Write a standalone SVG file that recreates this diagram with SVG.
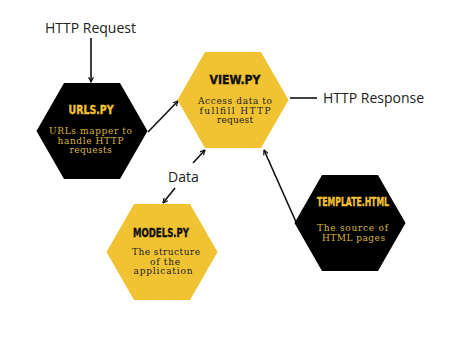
<svg xmlns="http://www.w3.org/2000/svg" width="474" height="355" viewBox="0 0 474 355">
<defs>
<marker id="ah" viewBox="0 0 10 10" refX="9" refY="5" markerWidth="6" markerHeight="6" orient="auto" markerUnits="userSpaceOnUse">
<path d="M1,1 L9,5 L1,9" fill="none" stroke="#111" stroke-width="2"/>
</marker>
<polygon id="hex" points="-28,-48 28,-48 55.5,0 28,48 -28,48 -55.5,0"/>
</defs>
<style>
.lbl{font-family:"Open Sans","Liberation Sans",sans-serif;font-size:14px;fill:#222}
.ttl{font-family:"DejaVu Sans Condensed","DejaVu Sans",sans-serif;font-weight:bold;font-size:12.5px;text-anchor:middle;stroke-width:0.4px}
.dsc{font-family:"DejaVu Serif","Liberation Serif",serif;font-size:9px;text-anchor:middle}
.blk{fill:#000}
.yel{fill:#f1c232}
.ty{fill:#f1c232;stroke:#f1c232}
.dy{fill:#d9b43c}
.tk{fill:#111;stroke:#111}
.dk{fill:#222}
.con{stroke:#111;stroke-width:1.6;fill:none}
</style>
<rect width="474" height="355" fill="#fff"/>
<g id="connectors">
<line class="con" x1="91" y1="38" x2="91" y2="82" marker-end="url(#ah)"/>
<line class="con" x1="148" y1="132" x2="178" y2="101" marker-end="url(#ah)"/>
<line class="con" x1="290" y1="98" x2="317" y2="98"/>
<line class="con" x1="193" y1="163" x2="205" y2="150" marker-end="url(#ah)"/>
<line class="con" x1="175" y1="188" x2="163" y2="203" marker-end="url(#ah)"/>
<line class="con" x1="296" y1="222" x2="264" y2="150" marker-end="url(#ah)"/>
</g>
<g id="lbl-request"><text class="lbl" x="45" y="33">HTTP Request</text></g>
<g id="lbl-response"><text class="lbl" x="323" y="103">HTTP Response</text></g>
<g id="lbl-data"><text class="lbl" x="168" y="182">Data</text></g>
<g id="urls">
<use href="#hex" x="92" y="131" class="blk"/>
<text class="ttl ty" x="91" y="114" textLength="45" lengthAdjust="spacingAndGlyphs">URLS.PY</text>
<text class="dsc dy" x="90.5" y="134" textLength="83">URLs mapper to</text>
<text class="dsc dy" x="90.5" y="143.5" textLength="66">handle HTTP</text>
<text class="dsc dy" x="90.5" y="153" textLength="42">requests</text>
</g>
<g id="view">
<use href="#hex" x="233" y="100" class="yel"/>
<text class="ttl tk" x="235" y="84" textLength="51" lengthAdjust="spacingAndGlyphs">VIEW.PY</text>
<text class="dsc dk" x="235" y="104" textLength="74">Access data to</text>
<text class="dsc dk" x="235" y="113.5" textLength="71">fullfill HTTP</text>
<text class="dsc dk" x="235" y="123" textLength="36">request</text>
</g>
<g id="models">
<use href="#hex" x="162" y="252" class="yel"/>
<text class="ttl tk" x="161" y="237" textLength="56" lengthAdjust="spacingAndGlyphs">MODELS.PY</text>
<text class="dsc dk" x="166" y="255" textLength="68">The structure</text>
<text class="dsc dk" x="165" y="264.5" textLength="30">of the</text>
<text class="dsc dk" x="163" y="274" textLength="59">application</text>
</g>
<g id="template">
<use href="#hex" x="350" y="223" class="blk"/>
<text class="ttl ty" x="353" y="206" textLength="72" lengthAdjust="spacingAndGlyphs">TEMPLATE.HTML</text>
<text class="dsc dy" x="352.5" y="231" textLength="71">The source of</text>
<text class="dsc dy" x="353.5" y="241" textLength="63">HTML pages</text>
</g>
</svg>
